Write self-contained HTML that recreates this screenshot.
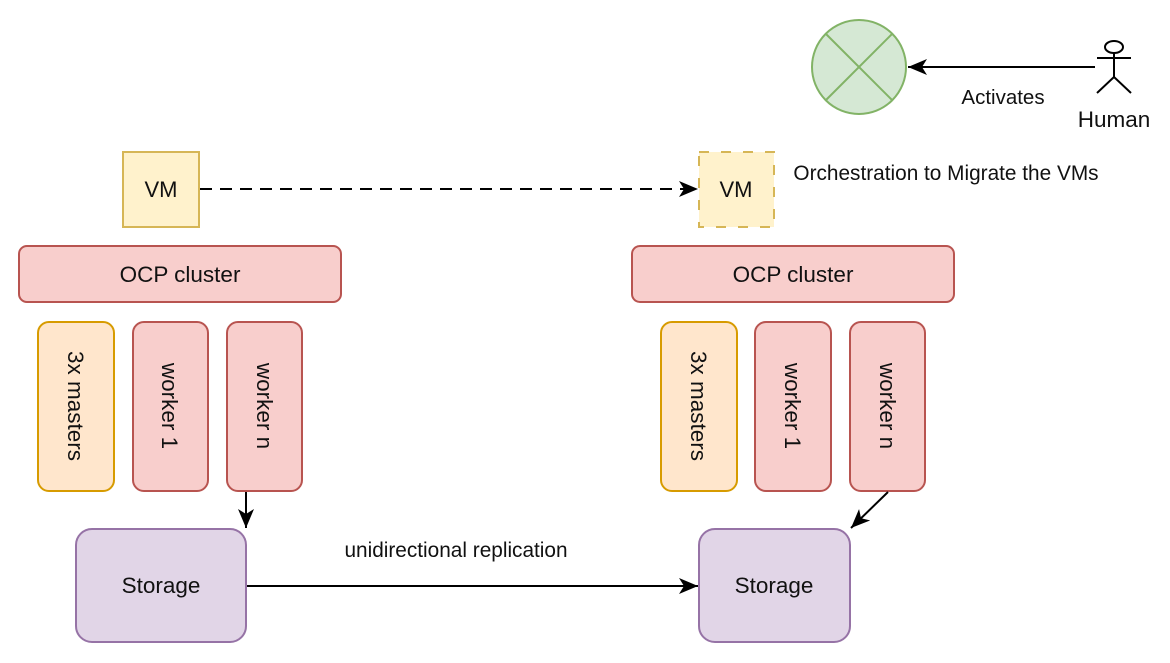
<!DOCTYPE html>
<html><head><style>body{margin:0;background:#fff}svg{display:block}text{font-family:"Liberation Sans",sans-serif;fill:#111}</style></head><body>
<svg width="1170" height="663" viewBox="0 0 1170 663" xmlns="http://www.w3.org/2000/svg">
<defs>
<marker id="b" markerWidth="20" markerHeight="16" refX="19" refY="8" orient="auto" markerUnits="userSpaceOnUse"><path d="M0,0 L19,8 L0,16 L5,8 z" fill="#000"/></marker></defs>
<circle cx="859" cy="67" r="47" fill="#d5e8d4" stroke="#82b366" stroke-width="2"/>
<line x1="826" y1="34" x2="892" y2="100" stroke="#82b366" stroke-width="2"/>
<line x1="892" y1="34" x2="826" y2="100" stroke="#82b366" stroke-width="2"/>
<line x1="1095" y1="67" x2="908" y2="67" stroke="#000" stroke-width="2" marker-end="url(#b)"/>
<rect x="960" y="84" width="86" height="26" fill="#fff"/>
<text x="1003" y="104" font-size="20.5" text-anchor="middle">Activates</text>
<g stroke="#000" stroke-width="2" fill="none"><ellipse cx="1114" cy="47" rx="9" ry="6" fill="#fff"/><line x1="1114" y1="53" x2="1114" y2="77"/><line x1="1097" y1="58" x2="1131" y2="58"/><line x1="1114" y1="77" x2="1097" y2="93"/><line x1="1114" y1="77" x2="1131" y2="93"/></g>
<text x="1114" y="127" font-size="22.5" text-anchor="middle">Human</text>
<rect x="123" y="152" width="76" height="75" fill="#fff2cc" stroke="#d6b656" stroke-width="2"/>
<text x="161" y="197" font-size="22" text-anchor="middle">VM</text>
<rect x="699" y="152" width="75" height="75" fill="#fff2cc" stroke="#d6b656" stroke-width="2" stroke-dasharray="10,12"/>
<text x="736" y="197" font-size="22" text-anchor="middle">VM</text>
<line x1="200" y1="189" x2="698" y2="189" stroke="#000" stroke-width="2" stroke-dasharray="12,8" marker-end="url(#b)"/>
<rect x="792" y="159" width="307" height="27" fill="#fff"/>
<text x="946" y="180" font-size="20.8" text-anchor="middle">Orchestration to Migrate the VMs</text>
<rect x="19" y="246" width="322" height="56" rx="8" fill="#f8cecc" stroke="#b85450" stroke-width="2"/>
<text x="180" y="282" font-size="22.5" text-anchor="middle">OCP cluster</text>
<rect x="632" y="246" width="322" height="56" rx="8" fill="#f8cecc" stroke="#b85450" stroke-width="2"/>
<text x="793" y="282" font-size="22.5" text-anchor="middle">OCP cluster</text>
<g stroke-width="2">
<rect x="38" y="322" width="76" height="169" rx="11" fill="#ffe6cc" stroke="#d79b00"/>
<rect x="133" y="322" width="75" height="169" rx="11" fill="#f8cecc" stroke="#b85450"/>
<rect x="227" y="322" width="75" height="169" rx="11" fill="#f8cecc" stroke="#b85450"/>
<rect x="661" y="322" width="76" height="169" rx="11" fill="#ffe6cc" stroke="#d79b00"/>
<rect x="755" y="322" width="76" height="169" rx="11" fill="#f8cecc" stroke="#b85450"/>
<rect x="850" y="322" width="75" height="169" rx="11" fill="#f8cecc" stroke="#b85450"/>
</g>
<g font-size="22.5" text-anchor="middle">
<text transform="translate(68,406) rotate(90)">3x masters</text>
<text transform="translate(162,406) rotate(90)">worker 1</text>
<text transform="translate(257,406) rotate(90)">worker n</text>
<text transform="translate(691,406) rotate(90)">3x masters</text>
<text transform="translate(785,406) rotate(90)">worker 1</text>
<text transform="translate(880,406) rotate(90)">worker n</text>
</g>
<rect x="76" y="529" width="170" height="113" rx="16" fill="#e1d5e7" stroke="#9673a6" stroke-width="2"/>
<text x="161" y="593" font-size="22.5" text-anchor="middle">Storage</text>
<rect x="699" y="529" width="151" height="113" rx="16" fill="#e1d5e7" stroke="#9673a6" stroke-width="2"/>
<text x="774" y="593" font-size="22.5" text-anchor="middle">Storage</text>
<line x1="246" y1="492" x2="246" y2="528" stroke="#000" stroke-width="2" marker-end="url(#b)"/>
<line x1="888" y1="492" x2="851" y2="528" stroke="#000" stroke-width="2" marker-end="url(#b)"/>
<line x1="247" y1="586" x2="698" y2="586" stroke="#000" stroke-width="2" marker-end="url(#b)"/>
<rect x="344" y="537" width="225" height="26" fill="#fff"/>
<text x="456" y="557" font-size="20.8" text-anchor="middle">unidirectional replication</text>
</svg>
</body></html>
